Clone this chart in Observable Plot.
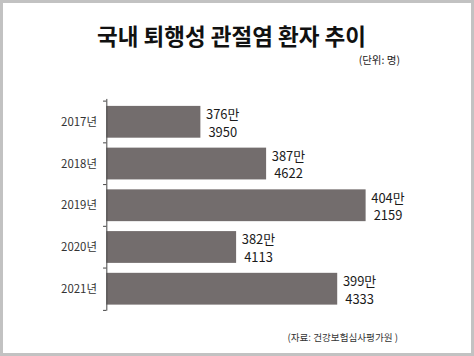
<!DOCTYPE html>
<html><head><meta charset="utf-8">
<script src="https://cdn.jsdelivr.net/npm/d3@7"></script>
<script src="https://cdn.jsdelivr.net/npm/@observablehq/plot@0.6"></script>
<style>
body{margin:0;background:#fff;}
#wrap{position:relative;width:474px;height:356px;box-sizing:border-box;border:3px solid #c2c2c2;background:#fff;font-family:"Noto Sans CJK KR",sans-serif;overflow:hidden;color:#111}
#title{position:absolute;left:0;top:20.5px;width:457px;text-align:center;font-size:22.5px;font-weight:700;line-height:1;white-space:nowrap;color:#111}
#unit{position:absolute;right:71px;top:52px;font-size:10.5px;line-height:1;white-space:nowrap;color:#222}
#source{position:absolute;right:73px;top:330px;font-size:9.6px;line-height:1;white-space:nowrap;color:#333}
#chart{position:absolute;left:-3px;top:86px}
</style></head>
<body>
<div id="wrap">
<div id="title">국내 퇴행성 관절염 환자 추이</div>
<div id="unit">(단위: 명)</div>
<div id="chart"></div>
<div id="source">(자료: 건강보험심사평가원 )</div>
</div>
<script>
const years = ["2017년", "2018년", "2019년", "2020년", "2021년"];
const patients = [3763950, 3874622, 4042159, 3824113, 3994333];
const xDomain = [3605600, 4162700];

const data = years.map((y, i) => ({
  year: y,
  value: patients[i],
  label: `${Math.floor(patients[i] / 10000)}만\n${patients[i] % 10000}`
}));

const width = 474, height = 233, marginTop = 10, marginBottom = 10;
const step = (height - marginTop - marginBottom) / years.length;
const x0 = xDomain[0];
const tickLen = 5500;
const barColor = "#736d6d";
const axisColor = "#444";

const chart = Plot.plot({
  width, height,
  marginTop, marginBottom,
  marginLeft: 107, marginRight: 34,
  style: {fontFamily: "'Noto Sans CJK KR', sans-serif", fontSize: "11.5px", color: "#333", background: "transparent"},
  x: {domain: xDomain, axis: null},
  y: {domain: years, label: null, tickSize: 0, tickPadding: 10, paddingInner: 0.25, paddingOuter: 0.125},
  marks: [
    Plot.barX(data, {x1: x0, x2: "value", y: "year", fill: barColor}),
    Plot.ruleX([x0], {stroke: axisColor, strokeWidth: 1}),
    Plot.ruleY(years, {y: d => d, x1: x0 - tickLen, x2: x0, dy: -step / 2, stroke: axisColor}),
    Plot.ruleY(years.slice(-1), {y: d => d, x1: x0 - tickLen, x2: x0, dy: step / 2, stroke: axisColor}),
    Plot.text(data, {x: "value", y: "year", text: "label", textAnchor: "middle", dx: 22, fontSize: 13, lineHeight: 1.35, fill: "#1a1a1a"})
  ]
});
document.getElementById("chart").appendChild(chart);
</script>
</body></html>
